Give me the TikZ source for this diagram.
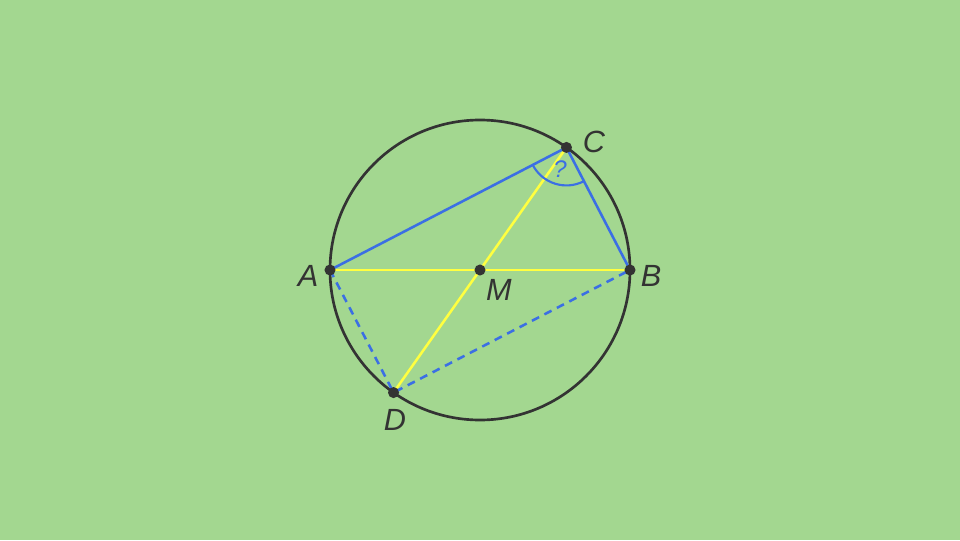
\documentclass[tikz,border=0pt]{standalone}
\usepackage{fontspec}
\setmainfont{Liberation Sans}
\usetikzlibrary{calc}
\definecolor{bg}{HTML}{A3D790}
\definecolor{ink}{HTML}{333333}
\definecolor{blu}{HTML}{3B6FE4}
\definecolor{yel}{HTML}{FFFF40}
\tikzset{
  circ/.style={draw=ink,line width=2pt},
  yline/.style={draw=yel,line width=1.9pt},
  bline/.style={draw=blu,line width=1.9pt},
  bdash/.style={draw=blu,line width=1.9pt,dash pattern=on 6pt off 4.5pt},
  pt/.style={circle,fill=ink,inner sep=0pt,minimum size=8.3pt},
  lab/.style={font=\fontsize{23}{25}\selectfont\itshape,text=ink,inner sep=0pt}
}
\begin{document}
\begin{tikzpicture}[x=0.75pt,y=0.75pt]
\fill[bg] (0,0) rectangle (960,540);
\useasboundingbox (0,0) rectangle (960,540);
\coordinate (Mc) at (480,270);
\coordinate (Ac) at ($(Mc)+(180:112.5pt)$);
\coordinate (Bc) at ($(Mc)+(0:112.5pt)$);
\coordinate (Cc) at ($(Mc)+(54.8:112.5pt)$);
\coordinate (Dc) at ($(Mc)+(234.8:112.5pt)$);
\draw[circ] (Mc) circle[radius=112.5pt];
\draw[yline] (Ac) -- (Bc);
\draw[yline] (Cc) -- (Dc);
\draw[bline] (Ac) -- (Cc) -- (Bc);
\draw[bdash] (Ac) -- (Dc) -- (Bc);
\draw[blu,line width=1.6pt] ($(Cc)+(207.4:28.5pt)$) arc[start angle=207.4,end angle=297.4,radius=28.5pt];
\node[text=blu,font=\fontsize{18}{20}\selectfont\itshape,inner sep=0pt] (q) at (560,371) {?};
\node[pt] (M) at (Mc) {};
\node[pt] (A) at (Ac) {};
\node[pt] (B) at (Bc) {};
\node[pt] (C) at (Cc) {};
\node[pt] (D) at (Dc) {};
\node[lab] (lA) at (308,264) {A};
\node[lab] (lB) at (651,264) {B};
\node[lab] (lC) at (594,398) {C};
\node[lab] (lM) at (499,250) {M};
\node[lab] (lD) at (395,120) {D};
\end{tikzpicture}
\end{document}
